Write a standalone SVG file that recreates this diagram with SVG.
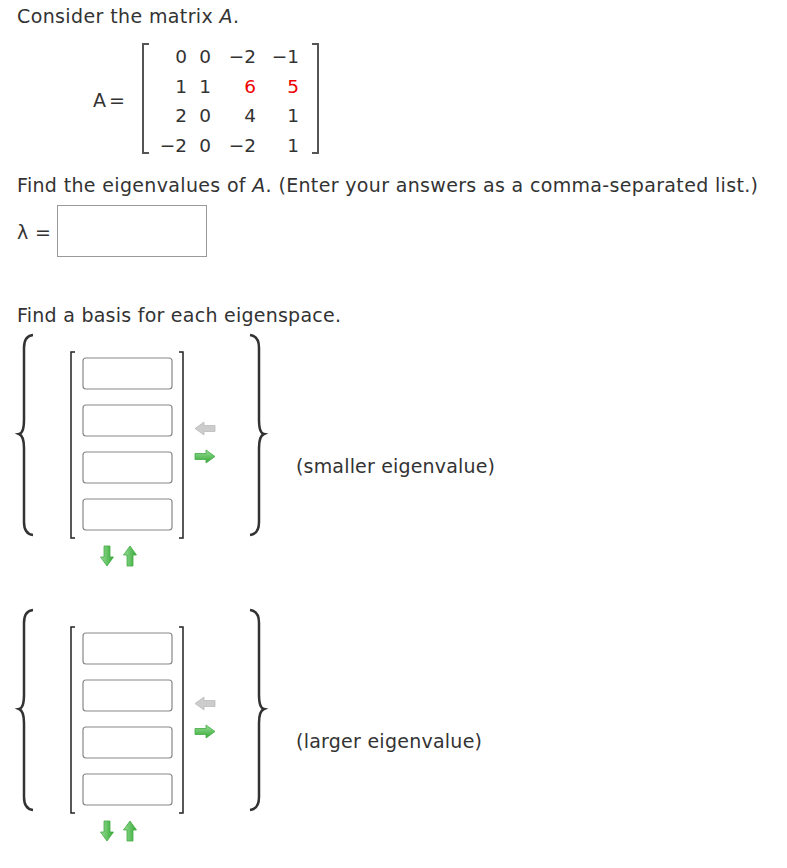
<svg xmlns="http://www.w3.org/2000/svg" width="787" height="868" viewBox="0 0 787 868">
<style>
text{font-family:"DejaVu Sans","Verdana",sans-serif;font-size:19px;fill:#333}
.m{text-anchor:end;font-size:18.5px}
.r{fill:#e00}
.box{fill:#fff;stroke:#888;stroke-width:1.2}
.br{fill:none;stroke:#222;stroke-width:1.5}
.mb{fill:none;stroke:#555;stroke-width:2}
.brace{fill:none;stroke:#333;stroke-width:2.5}
</style>
<defs>
<linearGradient id="g" x1="0" y1="0" x2="1" y2="0"><stop offset="0" stop-color="#9d9"/><stop offset="1" stop-color="#3a3"/></linearGradient>
<linearGradient id="gh" x1="0" y1="0" x2="0" y2="1"><stop offset="0" stop-color="#9d9"/><stop offset="1" stop-color="#3a3"/></linearGradient>
<g id="block">
<path class="brace" d="M33,335 Q24,336 24,348 L24,420 Q24,433 19,434 Q24,436 24,448 L24,522 Q24,534 33,535"/>
<path class="brace" d="M250,335 Q259,336 259,348 L259,420 Q259,433 264,434 Q259,436 259,448 L259,522 Q259,534 250,535"/>
<path class="br" d="M75,352 L71,352 L71,538 L75,538 M179,352 L183,352 L183,538 L179,538"/>
<rect class="box" x="83" y="358" width="89" height="31" rx="3"/>
<rect class="box" x="83" y="405" width="89" height="31" rx="3"/>
<rect class="box" x="83" y="452" width="89" height="31" rx="3"/>
<rect class="box" x="83" y="499" width="89" height="31" rx="3"/>
<path d="M215,425.5 L204,425.5 L204,422 L195,428.5 L204,435 L204,431.5 L215,431.5 Z" fill="#ccc" stroke="#bbb" stroke-width="0.8"/>
<path d="M195,453.5 L206,453.5 L206,450 L215,456.5 L206,463 L206,459.5 L195,459.5 Z" fill="url(#gh)" stroke="#4a4" stroke-width="0.8"/>
<path d="M104,546 L110,546 L110,557 L113.5,557 L107,566 L100.5,557 L104,557 Z" fill="url(#g)" stroke="#4a4" stroke-width="0.8"/>
<path d="M127,566 L133,566 L133,555 L136.5,555 L130,546 L123.5,555 L127,555 Z" fill="url(#g)" stroke="#4a4" stroke-width="0.8"/>
</g>
</defs>
<g id="title"><text x="17" y="23" textLength="222">Consider the matrix <tspan font-style="italic">A</tspan>.</text></g>
<g id="matrix">
<text x="93" y="107" textLength="32">A =</text>
<path class="mb" d="M149,44 L143,44 L143,153 L149,153 M312,44 L318,44 L318,153 L312,153"/>
<text class="m" x="187" y="63">0</text><text class="m" x="211" y="63">0</text><text class="m" x="256" y="63">−2</text><text class="m" x="299" y="63">−1</text>
<text class="m" x="187" y="93">1</text><text class="m" x="211" y="93">1</text><text class="m r" x="256" y="93">6</text><text class="m r" x="299" y="93">5</text>
<text class="m" x="187" y="122">2</text><text class="m" x="211" y="122">0</text><text class="m" x="256" y="122">4</text><text class="m" x="299" y="122">1</text>
<text class="m" x="187" y="152">−2</text><text class="m" x="211" y="152">0</text><text class="m" x="256" y="152">−2</text><text class="m" x="299" y="152">1</text>
</g>
<g id="q1"><text x="17" y="192" textLength="741">Find the eigenvalues of <tspan font-style="italic">A</tspan>. (Enter your answers as a comma-separated list.)</text>
<text x="17" y="239" textLength="34">λ =</text>
<rect x="57.5" y="205.5" width="149" height="51" fill="#fff" stroke="#999"/></g>
<g id="q2"><text x="17" y="322" textLength="324">Find a basis for each eigenspace.</text></g>
<g id="basis1"><use href="#block"/><text x="296" y="473" textLength="199">(smaller eigenvalue)</text></g>
<g id="basis2"><use href="#block" transform="translate(0,275)"/><text x="296" y="748" textLength="186">(larger eigenvalue)</text></g>
</svg>
